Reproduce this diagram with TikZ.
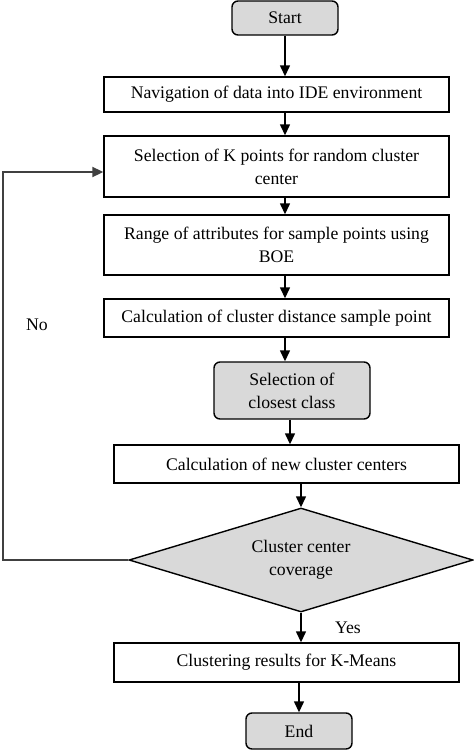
\documentclass[tikz,border=0pt]{standalone}
\usepackage{fontspec}
\setmainfont{Liberation Serif}
\usetikzlibrary{shapes.geometric,arrows.meta}
\begin{document}
\begin{tikzpicture}[x=1pt,y=-1pt,
 box/.style={draw,line width=1.4pt,rectangle,inner sep=0pt,align=center,font=\fontsize{17.7}{23}\selectfont},
 term/.style={box,rounded corners=6pt,fill=gray!30},
 lbl/.style={font=\fontsize{17.7}{23}\selectfont,inner sep=0pt},
 arr/.style={-{Triangle[length=11pt,width=10pt]},line width=1.4pt}]
\useasboundingbox (0,0) rectangle (474,750);
\node[term,minimum width=106pt,minimum height=34pt] (start) at (285,18) {Start};
\node[box,minimum width=345pt,minimum height=35pt] (nav) at (276.5,94.5) {Navigation of data into IDE environment};
\node[box,minimum width=345pt,minimum height=61pt] (sel) at (276.5,166.5) {Selection of K points for random cluster\\center};
\node[box,minimum width=345pt,minimum height=60pt] (range) at (276.5,245) {Range of attributes for sample points using\\BOE};
\node[box,minimum width=345pt,minimum height=38pt] (dist) at (276.5,318) {Calculation of cluster distance sample point};
\node[term,minimum width=156pt,minimum height=57pt] (close) at (292,390.5) {Selection of\\closest class};
\node[box,minimum width=345pt,minimum height=38pt] (newc) at (286.5,464) {Calculation of new cluster centers};
\node[box,diamond,fill=gray!30,aspect=3.3,minimum width=344pt,minimum height=104pt] (dec) at (301,560) {Cluster center\\coverage};
\node[box,minimum width=345pt,minimum height=39pt] (res) at (286.5,662.5) {Clustering results for K-Means};
\node[term,minimum width=106pt,minimum height=36pt] (end) at (299,731) {End};
\node[lbl] (no) at (37,325) {No};
\node[lbl] (yes) at (348,628) {Yes};
\coordinate (c2) at (290,0);
\coordinate (fb) at (3,172);
\draw[arr] (start.south) -- (start.south |- nav.north);
\draw[arr] (nav.south -| start.south) -- (sel.north -| start.south);
\draw[arr] (sel.south -| start.south) -- (range.north -| start.south);
\draw[arr] (range.south -| start.south) -- (dist.north -| start.south);
\draw[arr] (dist.south -| start.south) -- (close.north -| start.south);
\draw[arr] (close.south -| c2) -- (newc.north -| c2);
\draw[arr] (newc.south -| dec.north) -- (dec.north);
\draw[arr] (dec.south) -- (res.north -| dec.south);
\draw[arr] (res.south -| end.north) -- (end.north);
\draw[arr,draw=black!75,line width=2pt] (dec.west) -| (fb) -- (fb -| sel.west);
\end{tikzpicture}
\end{document}
